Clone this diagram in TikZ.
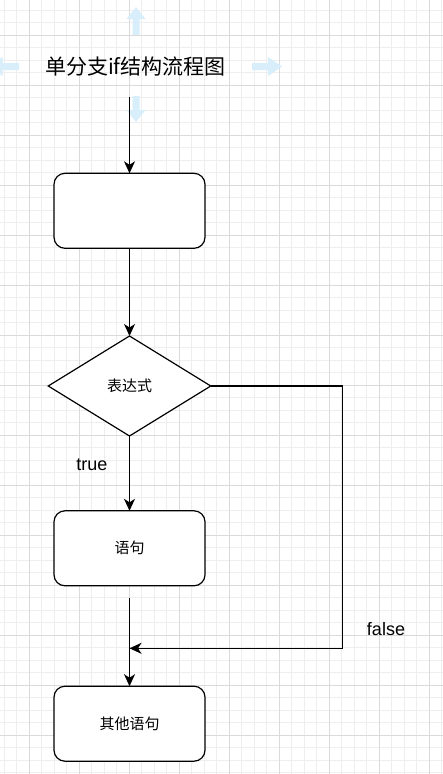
\documentclass[tikz,border=0pt]{standalone}
\usepackage{fontspec}
\setmainfont{Noto Sans CJK SC}
\newfontfamily\latfont{Liberation Sans}
\usetikzlibrary{arrows.meta,shapes.geometric}
\definecolor{gridminor}{RGB}{238,238,238}
\definecolor{gridmajor}{RGB}{218,218,218}
\definecolor{hintblue}{RGB}{216,238,251}
\tikzset{
  boxnode/.style={draw=black, line width=1.2pt, fill=white, rounded corners=11pt,
    minimum width=151pt, minimum height=75pt, inner sep=0pt, outer sep=0pt,
    font=\fontsize{15}{17}\selectfont},
  decision/.style={draw=black, line width=1.2pt, fill=white, diamond,
    minimum width=162.5pt, minimum height=100pt, inner sep=0pt, outer sep=0pt,
    font=\fontsize{15}{17}\selectfont},
  flow/.style={draw=black, line width=1.2pt, -{Stealth[length=12pt,width=11pt,inset=3.5pt]}},
  edgelabel/.style={font=\latfont\fontsize{18}{20}\selectfont, inner sep=0pt},
  hint/.style={fill=hintblue, draw=none},
}
\begin{document}
\begin{tikzpicture}[x=1pt,y=-1pt]
\useasboundingbox (0,0) rectangle (443,774);
\begin{scope}
\clip (0,0) rectangle (443,774);
\fill[white] (0,0) rectangle (443,774);
% grid
\foreach \i in {0,...,35} {\draw[gridminor, line width=1pt] ({4.25+12.5*\i},0) -- ({4.25+12.5*\i},774);}
\foreach \i in {0,...,61} {\draw[gridminor, line width=1pt] (0,{10.25+12.5*\i}) -- (443,{10.25+12.5*\i});}
\foreach \i in {0,...,8} {\draw[gridmajor, line width=1pt] ({29.25+50*\i},0) -- ({29.25+50*\i},774);}
\foreach \i in {0,...,14} {\draw[gridmajor, line width=1pt] (0,{35.25+50*\i}) -- (443,{35.25+50*\i});}
% hover hint arrows
\fill[hint] (136,7) -- (145.5,19) -- (139.5,19) -- (139.5,35) -- (132.5,35) -- (132.5,19) -- (126.5,19) -- cycle;
\fill[hint] (136,122) -- (145.5,110) -- (139.5,110) -- (139.5,96) -- (132.5,96) -- (132.5,110) -- (126.5,110) -- cycle;
\fill[hint] (282,66.5) -- (268,57) -- (268,63) -- (252,63) -- (252,70) -- (268,70) -- (268,76) -- cycle;
\fill[hint] (-11.5,66.5) -- (2.5,57) -- (2.5,63) -- (19,63) -- (19,70) -- (2.5,70) -- (2.5,76) -- cycle;
\end{scope}

\node[font=\fontsize{21}{24}\selectfont, inner sep=0pt] (title) at (135.5,66.5) {单分支if结构流程图};

\node[boxnode] (r1) at (129.5,210.8) {};
\node[decision] (d) at (129.5,386) {表达式};
\node[boxnode] (r2) at (129.5,548.3) {语句};
\node[boxnode] (r3) at (129.5,723.7) {其他语句};

\coordinate (t0) at (129.5,97);
\coordinate (s0) at (129.5,598.3);
\coordinate (c1) at (342.3,386);
\coordinate (c2) at (342.3,648.3);
\coordinate (m) at (129.5,648.3);

\draw[flow] (t0) -- (r1.north);
\draw[flow] (r1.south) -- (d.north);
\draw[flow] (d.south) -- (r2.north);
\draw[flow] (s0) -- (r3.north);
\draw[flow] (d.east) -- (c1) -- (c2) -- (m);

\node[edgelabel] (lt) at (92,465) {true};
\node[edgelabel] (lf) at (386,629.5) {false};
\end{tikzpicture}
\end{document}
